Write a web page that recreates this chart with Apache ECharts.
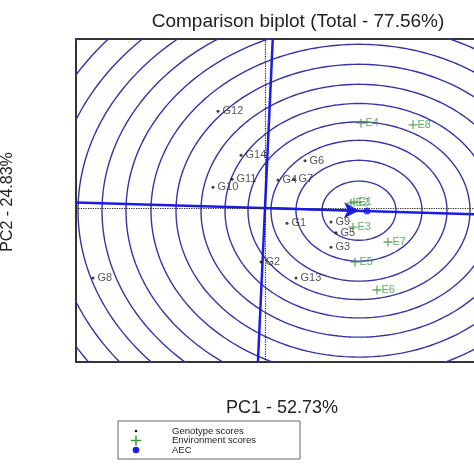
<!DOCTYPE html>
<html>
<head>
<meta charset="utf-8">
<title>Comparison biplot</title>
<script src="https://cdn.jsdelivr.net/npm/echarts@6/dist/echarts.min.js"></script>
<style>
  html, body { margin: 0; padding: 0; background: #fff; }
  #chart { width: 474px; height: 474px; }
</style>
</head>
<body>
<div id="chart"></div>
<script>
// genotype scores (PC1, PC2)
const genotypeNames = ['G1', 'G2', 'G3', 'G4', 'G5', 'G6', 'G7', 'G8', 'G9', 'G10', 'G11', 'G12', 'G13', 'G14']
const genotypeX = [0.22, -0.04, 0.66, 0.13, 0.71, 0.40, 0.29, -1.72, 0.66, -0.52, -0.33, -0.47, 0.31, -0.24]
const genotypeY = [-0.19, -0.675, -0.49, 0.35, -0.31, 0.59, 0.36, -0.875, -0.175, 0.26, 0.36, 1.21, -0.875, 0.66]

// environment scores (PC1, PC2)
const envNames = ['E1', 'E2', 'E3', 'E4', 'E5', 'E6', 'E7', 'E8']
const envX = [0.89, 0.86, 0.88, 0.96, 0.90, 1.12, 1.23, 1.48]
const envY = [0.075, 0.06, -0.24, 1.06, -0.675, -1.025, -0.425, 1.04]

// average environment coordinate and ideal point (circle centre)
const aecPoint = [1.02, -0.0375]
const idealPoint = [0.94, -0.034]
const circleRadii = [0.37, 0.63, 0.88, 1.11, 1.34, 1.58, 1.83, 2.08, 2.33, 2.57, 2.81, 3.05, 3.3, 3.54]

const xRange = [-1.89, 2.09]
const yRange = [-1.925, 2.1125]

const FONT = '"Liberation Sans", Arial, sans-serif'
const BLUE = '#1c1ce6'
const RING = '#3535a5'
const GREEN = '#3a963a'

const chart = echarts.init(document.getElementById('chart'))

function circlePoints(c, r) {
  const pts = []
  for (let i = 0; i <= 240; i++) {
    const a = (i / 240) * Math.PI * 2
    pts.push([c[0] + r * Math.cos(a), c[1] + r * Math.sin(a)])
  }
  return pts
}

// AEC abscissa through origin and the AEC point, ordinate perpendicular to it
const slope = aecPoint[1] / aecPoint[0]
const abscissa = [[xRange[0], slope * xRange[0]], [xRange[1], slope * xRange[1]]]
const ordinate = [[-slope * yRange[0], yRange[0]], [-slope * yRange[1], yRange[1]]]

const ringSeries = circleRadii.map(r => ({
  type: 'line',
  data: circlePoints(idealPoint, r),
  showSymbol: false,
  silent: true,
  lineStyle: { color: RING, width: 1.4 },
  z: 1,
}))

chart.setOption({
  animation: false,
  grid: { left: 76, top: 39, right: 0, bottom: 112 },
  xAxis: [
    {
      type: 'value',
      min: xRange[0],
      max: xRange[1],
      axisLine: { show: true, onZero: false, lineStyle: { color: '#333', width: 2 } },
      axisTick: { show: false },
      axisLabel: { show: false },
      splitLine: { show: false },
    },
    {
      type: 'value',
      position: 'top',
      min: xRange[0],
      max: xRange[1],
      axisLine: { show: true, onZero: false, lineStyle: { color: '#333', width: 2 } },
      axisTick: { show: false },
      axisLabel: { show: false },
      splitLine: { show: false },
    },
  ],
  yAxis: {
    type: 'value',
    min: yRange[0],
    max: yRange[1],
    axisLine: { show: true, onZero: false, lineStyle: { color: '#333', width: 2 } },
    axisTick: { show: false },
    axisLabel: { show: false },
    splitLine: { show: false },
  },
  graphic: [
    {
      type: 'text', x: 298, y: 22,
      style: { text: 'Comparison biplot (Total - 77.56%)', font: '19px ' + FONT, fill: '#222', align: 'center', verticalAlign: 'middle' },
    },
    {
      type: 'text', x: 282, y: 408,
      style: { text: 'PC1 - 52.73%', font: '18px ' + FONT, fill: '#222', align: 'center', verticalAlign: 'middle' },
    },
    {
      type: 'text', x: 8, y: 202, rotation: Math.PI / 2,
      style: { text: 'PC2 - 24.83%', font: '16px ' + FONT, fill: '#222', align: 'center', verticalAlign: 'middle' },
    },
    // legend box
    {
      type: 'rect',
      shape: { x: 118, y: 421, width: 182, height: 38 },
      style: { fill: '#fff', stroke: '#666', lineWidth: 1 },
    },
    { type: 'circle', shape: { cx: 136, cy: 431, r: 1.3 }, style: { fill: '#111' } },
    { type: 'line', shape: { x1: 131, y1: 440.5, x2: 141, y2: 440.5 }, style: { stroke: GREEN, lineWidth: 1.5 } },
    { type: 'line', shape: { x1: 136, y1: 435.5, x2: 136, y2: 445.5 }, style: { stroke: GREEN, lineWidth: 1.5 } },
    { type: 'circle', shape: { cx: 136, cy: 450, r: 3.3 }, style: { fill: BLUE } },
    { type: 'text', x: 172, y: 431, style: { text: 'Genotype scores', font: '9.5px ' + FONT, fill: '#222', verticalAlign: 'middle' } },
    { type: 'text', x: 172, y: 440.5, style: { text: 'Environment scores', font: '9.5px ' + FONT, fill: '#222', verticalAlign: 'middle' } },
    { type: 'text', x: 172, y: 450, style: { text: 'AEC', font: '9.5px ' + FONT, fill: '#222', verticalAlign: 'middle' } },
  ],
  series: [
    ...ringSeries,
    {
      // dotted PC1 / PC2 axes
      type: 'line',
      data: [],
      markLine: {
        silent: true,
        symbol: 'none',
        label: { show: false },
        lineStyle: { color: '#222', type: 'dotted', width: 1.2 },
        data: [{ xAxis: 0 }, { yAxis: 0 }],
      },
      z: 2,
    },
    {
      type: 'line',
      data: abscissa,
      showSymbol: false,
      lineStyle: { color: BLUE, width: 2.5 },
      z: 3,
    },
    {
      type: 'line',
      data: ordinate,
      showSymbol: false,
      lineStyle: { color: BLUE, width: 2.5 },
      z: 3,
    },
    {
      // arrow towards the ideal environment
      type: 'line',
      data: [],
      markLine: {
        silent: true,
        symbol: ['none', 'arrow'],
        symbolSize: [12, 15],
        label: { show: false },
        lineStyle: { color: BLUE, width: 2, type: 'solid' },
        data: [[{ coord: [0, 0] }, { coord: idealPoint }]],
      },
      z: 4,
    },
    {
      name: 'Genotype scores',
      type: 'scatter',
      symbol: 'circle',
      symbolSize: 3,
      itemStyle: { color: '#111' },
      label: {
        show: true,
        position: 'right',
        distance: 3,
        formatter: p => p.data[2],
        color: '#2a2a2a',
        fontFamily: FONT,
        fontSize: 11,
      },
      data: genotypeNames.map((n, i) => [genotypeX[i], genotypeY[i], n]),
      z: 5,
    },
    {
      name: 'Environment scores',
      type: 'scatter',
      symbol: 'path://M4.3 0H5.7V10H4.3Z M0 4.3H10V5.7H0Z',
      symbolSize: 9,
      itemStyle: { color: GREEN },
      label: {
        show: true,
        position: 'right',
        distance: 0,
        formatter: p => p.data[2],
        color: GREEN,
        fontFamily: FONT,
        fontSize: 11,
      },
      data: envNames.map((n, i) => [envX[i], envY[i], n]),
      z: 5,
    },
    {
      name: 'AEC',
      type: 'scatter',
      symbolSize: 7,
      itemStyle: { color: BLUE },
      data: [aecPoint],
      z: 6,
    },
  ],
})
</script>
</body>
</html>
